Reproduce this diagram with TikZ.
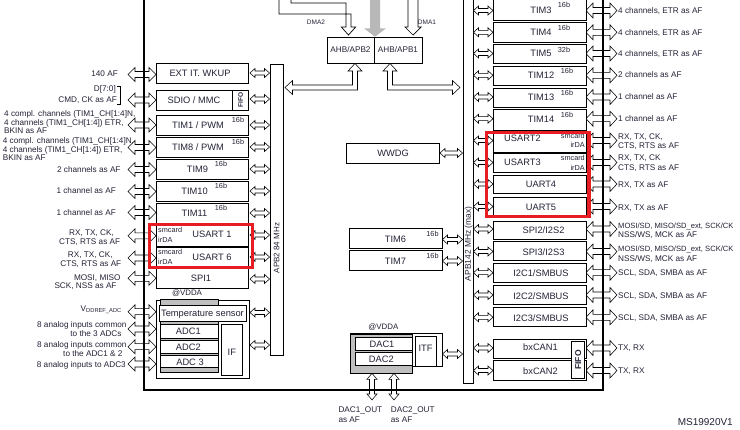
\documentclass[tikz,border=0pt]{standalone}
\usepackage{fontspec}
\setmainfont{Liberation Sans}
\definecolor{txt}{RGB}{35,35,55}
\definecolor{redbox}{RGB}{230,30,36}
\newcommand{\FBx}{\fontsize{9.3}{10}\selectfont}
\newcommand{\FLb}{\fontsize{8.2}{9}\selectfont}
\newcommand{\FSm}{\fontsize{7.3}{8}\selectfont}
\newcommand{\FTn}{\fontsize{6.5}{7}\selectfont}
% horizontal double hollow arrow: x1 x2 y halfshaft halfhead headlen
\newcommand{\HArr}[6]{\draw[arr] (#1,#3) -- ({#1+#6},{#3-#5}) -- ({#1+#6},{#3-#4}) -- ({#2-#6},{#3-#4}) -- ({#2-#6},{#3-#5}) -- (#2,#3) -- ({#2-#6},{#3+#5}) -- ({#2-#6},{#3+#4}) -- ({#1+#6},{#3+#4}) -- ({#1+#6},{#3+#5}) -- cycle;}
% vertical double hollow arrow: y1 y2 x halfshaft halfhead headlen
\newcommand{\VArr}[6]{\draw[arr] (#3,#1) -- ({#3-#5},{#1+#6}) -- ({#3-#4},{#1+#6}) -- ({#3-#4},{#2-#6}) -- ({#3-#5},{#2-#6}) -- (#3,#2) -- ({#3+#5},{#2-#6}) -- ({#3+#4},{#2-#6}) -- ({#3+#4},{#1+#6}) -- ({#3+#5},{#1+#6}) -- cycle;}
\newcommand{\BigL}[1]{\HArr{128}{156}{#1}{3}{7}{7}}
\newcommand{\SmL}[1]{\HArr{250}{269.5}{#1}{2}{4.5}{5}}
\newcommand{\SmR}[1]{\HArr{473.5}{493}{#1}{2}{4.5}{5}}
\newcommand{\BigR}[1]{\HArr{586}{617}{#1}{3}{7.5}{7}}
\newcommand{\Bx}[5]{\node[box,minimum width={(#4)-(#2)},minimum height={(#5)-(#3)}] (#1) at ({((#2)+(#4))/2},{((#3)+(#5))/2}) {};}
\begin{document}
\begin{tikzpicture}[x=1pt,y=-1pt,
 box/.style={draw=black, line width=0.75pt, fill=white, inner sep=0pt, outer sep=0pt},
 arr/.style={draw=black, line width=0.55pt, fill=white, line join=miter},
 bt/.style={inner sep=0pt, text=txt, font=\FBx, text height=6.7pt, text depth=0pt},
 lb/.style={inner sep=0pt, text=txt, font=\FLb, text height=5.9pt, text depth=0pt},
 sb/.style={inner sep=0pt, text=txt, font=\FSm, text height=5.2pt, text depth=0pt},
 tn/.style={inner sep=0pt, text=txt, font=\FTn, text height=4.7pt, text depth=0pt},
 bus/.style={draw=black, line width=2pt},
 hilite/.style={draw=redbox, line width=3.2pt},
 gstrip/.style={draw=black, line width=0.6pt, fill=black!25},
 thinl/.style={draw=black, line width=0.7pt, line join=miter},
]
\useasboundingbox (0,0) rectangle (740,429);
\fill[white] (0,0) rectangle (740,429);

% ---------- top: DMA and bridges ----------
\draw[thinl] (279,0) -- (279,14) -- (351,14) -- (351,27) -- (355.7,27) -- (348.5,35) -- (341.3,27) -- (346,27) -- (346,3) -- (291,3) -- (291,0);
\draw[thinl] (408,0) -- (408,27) -- (405,27) -- (413,35) -- (421,27) -- (418,27) -- (418,0);
\fill[black!28] (370,0) -- (380,0) -- (380,28.3) -- (386,28.3) -- (375,36.7) -- (364,28.3) -- (370,28.3) -- cycle;
\node[tn] (dma2) at (316,22.5) {DMA2};
\node[tn] (dma1) at (427,22.5) {DMA1};
\node[box, minimum width=47, minimum height=26] (ahb2) at (350.5,50) {};
\node[box, minimum width=48, minimum height=26] (ahb1) at (398,50) {};
\node[lb] (ahb2t) at (350.5,50) {AHB/APB2};
\node[lb] (ahb1t) at (398,50) {AHB/APB1};
\draw[arr] (285,87.5) -- (292.5,80.5) -- (292.5,85) -- (352.5,85) -- (352.5,71) -- (348,71) -- (355,63.5) -- (362,71) -- (357.5,71) -- (357.5,90) -- (292.5,90) -- (292.5,94.5) -- cycle;
\draw[arr] (390,63.5) -- (397,71) -- (392.5,71) -- (392.5,85) -- (452.5,85) -- (452.5,80.5) -- (460,87.5) -- (452.5,94.5) -- (452.5,90) -- (387.5,90) -- (387.5,71) -- (383,71) -- cycle;

% ---------- APB bars ----------
\Bx{apb2}{270}{64}{283}{355}
\node[lb, rotate=90, font=\fontsize{8}{9}\selectfont] (apb2t) at (276.5,248) {APB2 84 MHz};
\Bx{apb1}{463}{-2}{473}{383}
\node[lb, rotate=90, font=\fontsize{8.4}{9}\selectfont] (apb1t) at (468,244) {APB142 MHz (max)};

% ---------- left big arrows (under the bus) ----------
\BigL{74.5}\BigL{100}\BigL{125}\BigL{147.5}\BigL{169.5}\BigL{191.5}\BigL{212.5}
\BigL{235.8}\BigL{258}\BigL{278.3}\BigL{311.7}\BigL{329}\BigL{346.7}\BigL{364}
% ---------- right big arrows ----------
\BigR{10.5}\BigR{32.3}\BigR{53.5}\BigR{75.3}\BigR{97}\BigR{118.7}\BigR{140.5}\BigR{162.5}
\BigR{184}\BigR{206.5}\BigR{229}\BigR{251.5}\BigR{272.7}\BigR{295}\BigR{317.3}\BigR{348}\BigR{370.5}
% ---------- DAC outputs ----------
\VArr{373.3}{400}{372}{2.5}{5}{6}
\VArr{373.3}{400}{394}{2.5}{5}{6}

% ---------- bus ----------
\draw[bus] (144,0) -- (144,389.5) -- (602.5,389.5) -- (602.5,0);

% ---------- left small arrows ----------
\SmL{73}\SmL{99}\SmL{125}\SmL{147}\SmL{169}\SmL{191}\SmL{213}\SmL{235}\SmL{257}\SmL{279}\SmL{312.5}\SmL{345}
% ---------- right small arrows ----------
\SmR{10.5}\SmR{32.3}\SmR{53.5}\SmR{75.3}\SmR{97}\SmR{118.7}\SmR{140.5}\SmR{162.5}
\SmR{184}\SmR{206.5}\SmR{229}\SmR{251.5}\SmR{272.7}\SmR{295}\SmR{317.3}\SmR{348}\SmR{370.5}
% ---------- middle small arrows ----------
\HArr{440}{462.5}{153}{2}{4.5}{5}
\HArr{442.5}{462.5}{239.5}{2}{4.5}{5}
\HArr{442.5}{462.5}{261}{2}{4.5}{5}
\HArr{442.5}{462.5}{354}{2}{4.5}{5}

% ---------- left column ----------
\Bx{ext}{156}{63}{248}{83}
\node[bt] (extt) at (200,73) {EXT IT. WKUP};
\Bx{sdio}{156}{90}{248}{110}
\Bx{sdiof}{232}{90}{248}{110}
\node[bt] (sdiot) at (194,100) {SDIO / MMC};
\node[tn, rotate=90, font=\FTn\bfseries] (sdioft) at (240.5,100) {FIFO};
\Bx{tima}{156}{115}{248}{135}
\node[bt] (timat) at (198,125) {TIM1 / PWM};
\node[sb] (timab) at (238,120) {16b};
\Bx{timh}{156}{137}{248}{157}
\node[bt] (timht) at (198,147) {TIM8 / PWM};
\node[sb] (timhb) at (238,142) {16b};
\Bx{timi}{156}{159}{248}{179}
\node[bt] (timit) at (197.5,169.5) {TIM9};
\node[sb] (timib) at (221,164) {16b};
\Bx{timj}{156}{181.5}{248}{201}
\node[bt] (timjt) at (194.5,191.5) {TIM10};
\node[sb] (timjb) at (221,186) {16b};
\Bx{timk}{156}{203}{248}{225}
\node[bt] (timkt) at (194.5,213.5) {TIM11};
\node[sb] (timkb) at (221,208) {16b};
\Bx{usa}{156}{225.5}{248}{246}
\node[sb, anchor=west] (usasm) at (158,229.5) {smcard};
\node[sb, anchor=west] (usair) at (158,239.5) {irDA};
\node[bt] (usat) at (212,234) {USART 1};
\Bx{usf}{156}{247}{248}{267}
\node[sb, anchor=west] (usfsm) at (158,252.3) {smcard};
\node[sb, anchor=west] (usfir) at (158,262.3) {irDA};
\node[bt] (usft) at (212,256.7) {USART 6};
\Bx{spia}{156}{267}{248}{288.3}
\node[bt] (spiat) at (201,278.3) {SPI1};

% analog block
\node[sb, font=\fontsize{7.9}{8}\selectfont] (vdda) at (187,293) {@VDDA};
\draw[thinl, line width=0.6pt] (156,300) rectangle (249,378.3);
\draw[gstrip] (160,299) rectangle (218,372);
\Bx{temp}{159}{305.5}{246}{321}
\node[bt] (tempt) at (202.5,313.3) {Temperature sensor};
\Bx{adca}{160}{324.3}{218}{338}
\node[bt] (adcat) at (188.3,330.7) {ADC1};
\Bx{adcb}{160}{340.5}{218}{353}
\node[bt] (adcbt) at (188.3,347.3) {ADC2};
\Bx{adcc}{160}{355}{218}{367}
\node[bt] (adcct) at (190,362) {ADC 3};
\Bx{iff}{221.7}{324.3}{242.7}{375.7}
\node[bt] (ifft) at (231.8,352) {IF};

% ---------- middle ----------
\Bx{wwdg}{346}{143}{439}{163}
\node[bt] (wwdgt) at (393,152.7) {WWDG};
\Bx{timf}{349}{228}{442}{248}
\node[bt] (timft) at (395.5,239) {TIM6};
\node[sb] (timfb) at (432.5,234) {16b};
\Bx{timg}{349}{250}{442}{270}
\node[bt] (timgt) at (395.5,261) {TIM7};
\node[sb] (timgb) at (432.5,255.5) {16b};
\node[sb, font=\fontsize{7.9}{8}\selectfont] (vddb) at (383.3,326.7) {@VDDA};
\draw[thinl, line width=0.6pt] (350,333) rectangle (442,366.7);
\draw[gstrip] (350,334) rectangle (412,373.3);
\Bx{daca}{355}{337.7}{412}{350}
\node[bt] (dacat) at (382,344.3) {DAC1};
\Bx{dacb}{355}{352.7}{412}{365}
\node[bt] (dacbt) at (381.3,359.5) {DAC2};
\Bx{itf}{415.7}{336}{436.7}{366}
\node[bt] (itft) at (425.5,348.3) {ITF};
\node[lb, anchor=west] (doa) at (338.3,409.3) {DAC1\_OUT};
\node[lb, anchor=west] (dob) at (338.3,419.3) {as AF};
\node[lb, anchor=west] (doc) at (390.7,409.3) {DAC2\_OUT};
\node[lb, anchor=west] (dod) at (390.7,419.3) {as AF};

% ---------- right column ----------
\Bx{tmc}{493}{-2}{586}{20}
\node[bt] (tmct) at (541,10.5) {TIM3};
\node[sb] (tmcb) at (564,5) {16b};
\Bx{tmd}{493}{22}{586}{42}
\node[bt] (tmdt) at (541,32.3) {TIM4};
\node[sb] (tmdb) at (564,27.5) {16b};
\Bx{tme}{493}{44}{586}{63.5}
\node[bt] (tmet) at (541,53.5) {TIM5};
\node[sb] (tmeb) at (564,49.5) {32b};
\Bx{tml}{493}{66}{586}{85.5}
\node[bt] (tmlt) at (541,75.5) {TIM12};
\node[sb] (tmlb) at (567,70.5) {16b};
\Bx{tmm}{493}{88}{586}{107}
\node[bt] (tmmt) at (541,97) {TIM13};
\node[sb] (tmmb) at (567,92.5) {16b};
\Bx{tmn}{493}{109.5}{586}{130}
\node[bt] (tmnt) at (541,119) {TIM14};
\node[sb] (tmnb) at (567,114.5) {16b};
\Bx{usb}{493}{133.3}{586}{152}
\node[bt] (usbt) at (522.5,138.5) {USART2};
\node[sb, anchor=east] (usbsm) at (585,135.5) {smcard};
\node[sb, anchor=east] (usbir) at (585,145.3) {irDA};
\Bx{usc}{493}{153.3}{586}{172}
\node[bt] (usct) at (522.5,162.3) {USART3};
\node[sb, anchor=east] (uscsm) at (585,158) {smcard};
\node[sb, anchor=east] (uscir) at (585,167.7) {irDA};
\Bx{uad}{493}{175}{586}{193.5}
\node[bt] (uadt) at (541,184.5) {UART4};
\Bx{uae}{493}{197}{586}{215.3}
\node[bt] (uaet) at (541,207.5) {UART5};
\Bx{spib}{493}{221.7}{586}{239.3}
\node[bt] (spibt) at (543.5,230) {SPI2/I2S2};
\Bx{spic}{493}{241.7}{586}{260}
\node[bt] (spict) at (543.5,252) {SPI3/I2S3};
\Bx{ica}{493}{263}{586}{282}
\node[bt] (icat) at (541,273.3) {I2C1/SMBUS};
\Bx{icb}{493}{285}{586}{304}
\node[bt] (icbt) at (541,296) {I2C2/SMBUS};
\Bx{icc}{493}{307}{586}{326}
\node[bt] (icct) at (541,317.7) {I2C3/SMBUS};
\Bx{cana}{493}{339.5}{586}{358.5}
\node[bt] (canat) at (540.5,347.3) {bxCAN1};
\Bx{canb}{493}{360.5}{586}{380.5}
\node[bt] (canbt) at (540.5,370.7) {bxCAN2};
\Bx{canf}{571.7}{341.7}{584.5}{378.3}
\node[lb, rotate=90, font=\fontsize{8.5}{9}\selectfont\bfseries] (canft) at (578.1,360) {FIFO};

% ---------- left labels ----------
\node[lb, anchor=east] (la) at (118,73.5) {140 AF};
\node[lb, anchor=east] (lb1) at (116,88.5) {D[7:0]};
\node[lb, anchor=east] (lb2) at (117,99.7) {CMD, CK as AF};
\draw[black, line width=0.6pt] (116.5,86) -- (120.3,86) -- (120.3,104) -- (116.5,104);
\node[lb, anchor=west] (lc1) at (4,113.3) {4 compl. channels (TIM1\_CH[1:4]N,};
\node[lb, anchor=west] (lc2) at (4,122.7) {4 channels (TIM1\_CH[1:4]) ETR,};
\node[lb, anchor=west] (lc3) at (4,130.7) {BKIN as AF};
\node[lb, anchor=west] (ld1) at (2.7,140.3) {4 compl. channels (TIM1\_CH[1:4]N,};
\node[lb, anchor=west] (ld2) at (2.7,149.3) {4 channels (TIM1\_CH[1:4]) ETR,};
\node[lb, anchor=west] (ld3) at (2.7,157.3) {BKIN as AF};
\node[lb, anchor=east] (le) at (120.7,169.7) {2 channels as AF};
\node[lb, anchor=east] (lf) at (116,191) {1 channel as AF};
\node[lb, anchor=east] (lg) at (116,213) {1 channel as AF};
\node[lb] (lh1) at (91.5,232.7) {RX, TX, CK,};
\node[lb] (lh2) at (89.7,241.7) {CTS, RTS as AF};
\node[lb] (li1) at (90.3,254.3) {RX, TX, CK,};
\node[lb] (li2) at (90.8,263.3) {CTS, RTS as AF};
\node[lb, anchor=east] (lj1) at (120.7,277.3) {MOSI, MISO};
\node[lb, anchor=east] (lj2) at (116.7,285.3) {SCK, NSS as AF};
\node[lb, anchor=east] (lk) at (122,308.3) {V\textsubscript{DDREF\_ADC}};
\node[lb, anchor=east] (ll1) at (126.7,325) {8 analog inputs common};
\node[lb, anchor=east] (ll2) at (121.7,334) {to the 3 ADCs};
\node[lb, anchor=east] (lm1) at (126.7,344.3) {8 analog inputs common};
\node[lb, anchor=east] (lm2) at (122.7,354) {to the ADC1 \& 2};
\node[lb, anchor=east] (ln) at (126,364.3) {8 analog inputs to ADC3};

% ---------- right labels ----------
\node[lb, anchor=west] (ra) at (618,11) {4 channels, ETR as AF};
\node[lb, anchor=west] (rb) at (618,32.3) {4 channels, ETR as AF};
\node[lb, anchor=west] (rc) at (618,53.3) {4 channels, ETR as AF};
\node[lb, anchor=west] (rd) at (618,75) {2 channels as AF};
\node[lb, anchor=west] (re) at (618,96.7) {1 channel as AF};
\node[lb, anchor=west] (rf) at (618,118.3) {1 channel as AF};
\node[lb, anchor=west] (rg1) at (618,136.7) {RX, TX, CK,};
\node[lb, anchor=west] (rg2) at (618,145.7) {CTS, RTS as AF};
\node[lb, anchor=west] (rh1) at (618,158) {RX, TX, CK};
\node[lb, anchor=west] (rh2) at (618,167.3) {CTS, RTS as AF};
\node[lb, anchor=west] (ri) at (618,184.3) {RX, TX as AF};
\node[lb, anchor=west] (rj) at (618,207.5) {RX, TX as AF};
\node[lb, anchor=west, font=\fontsize{7.6}{9}\selectfont] (rk1) at (618,226) {MOSI/SD, MISO/SD\_ext, SCK/CK};
\node[lb, anchor=west] (rk2) at (618,235) {NSS/WS, MCK as AF};
\node[lb, anchor=west, font=\fontsize{7.6}{9}\selectfont] (rl1) at (618,249) {MOSI/SD, MISO/SD\_ext, SCK/CK};
\node[lb, anchor=west] (rl2) at (618,258.3) {NSS/WS, MCK as AF};
\node[lb, anchor=west] (rm) at (618,272.7) {SCL, SDA, SMBA as AF};
\node[lb, anchor=west] (rn) at (618,295.3) {SCL, SDA, SMBA as AF};
\node[lb, anchor=west] (ro) at (618,317.3) {SCL, SDA, SMBA as AF};
\node[lb, anchor=west] (rp) at (618,347.7) {TX, RX};
\node[lb, anchor=west] (rq) at (618,371) {TX, RX};
\node[lb, anchor=east, font=\fontsize{10}{11}\selectfont, text height=7.2pt] (ms) at (733,422) {MS19920V1};

% ---------- red highlights ----------
\draw[hilite] (149.3,224.3) rectangle (252.7,267.7);
\draw[hilite] (486.7,132.7) rectangle (589,216.7);
\end{tikzpicture}
\end{document}
